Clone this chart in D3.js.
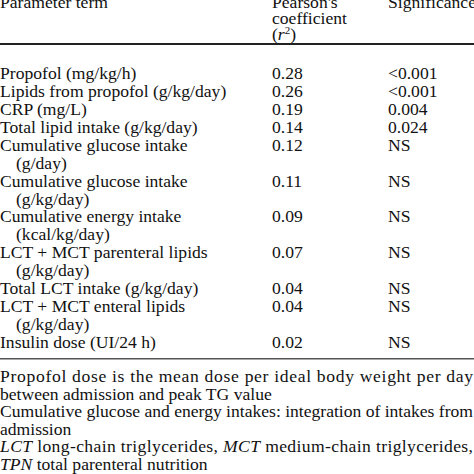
<!DOCTYPE html>
<html><head><meta charset="utf-8">
<script src="https://cdn.jsdelivr.net/npm/d3@7"></script>
<style>body{margin:0;background:#fff}text{font-family:"Liberation Serif","Times New Roman",serif;fill:#111}</style>
</head><body><svg id="c" width="474" height="474"></svg>
<script>
const headers = [["Parameter term"],["Pearson's","coefficient","(r²)"],["Significance"]];
const terms = [["Propofol (mg/kg/h)"],["Lipids from propofol (g/kg/day)"],["CRP (mg/L)"],["Total lipid intake (g/kg/day)"],["Cumulative glucose intake","(g/day)"],["Cumulative glucose intake","(g/kg/day)"],["Cumulative energy intake","(kcal/kg/day)"],["LCT + MCT parenteral lipids","(g/kg/day)"],["Total LCT intake (g/kg/day)"],["LCT + MCT enteral lipids","(g/kg/day)"],["Insulin dose (UI/24 h)"]];
const coefficients = ["0.28","0.26","0.19","0.14","0.12","0.11","0.09","0.07","0.04","0.04","0.02"];
const significance = ["<0.001","<0.001","0.004","0.024","NS","NS","NS","NS","NS","NS","NS"];
const footnotes = [["Propofol dose is the mean dose per ideal body weight per day",true],["between admission and peak TG value",false],["Cumulative glucose and energy intakes: integration of intakes from",true],["admission",false],["<i>LCT</i> long-chain triglycerides, <i>MCT</i> medium-chain triglycerides,",true],["<i>TPN</i> total parenteral nutrition",false]];

const svg = d3.select("#c");
const fs = 17.6, lh = 17.93;
const colX = [0, 272, 388];
const hdrY = d3.scaleLinear().domain([0,1]).range([8, 24]);
headers.forEach((h,ci)=>h.forEach((t,li)=>{
  const tx = svg.append("text").attr("x",colX[ci]).attr("y",hdrY(li)).attr("font-size",fs);
  if(t==="(r²)"){tx.text("(");tx.append("tspan").attr("font-style","italic").text("r");tx.append("tspan").attr("dy",-6).attr("font-size",11).text("2");tx.append("tspan").attr("dy",6).text(")");}
  else tx.text(t);
}));
svg.append("rect").attr("x",0).attr("y",43).attr("width",474).attr("height",2).attr("fill","#222");
const y = d3.scaleLinear().domain([0,1]).range([79, 79+lh]);
let line = 0;
terms.forEach((t,i)=>{
  t.forEach((s,k)=>svg.append("text").attr("x",k?16:0).attr("y",y(line+k)).attr("font-size",fs).text(s));
  svg.append("text").attr("x",colX[1]).attr("y",y(line)).attr("font-size",fs).text(coefficients[i]);
  svg.append("text").attr("x",colX[2]).attr("y",y(line)).attr("font-size",fs).text(significance[i]);
  line += t.length;
});
svg.append("rect").attr("x",0).attr("y",358).attr("width",474).attr("height",1.5).attr("fill","#555");
const fy = d3.scaleLinear().domain([0,1]).range([382, 399.5]);
footnotes.forEach(([s,j],i)=>{
  const tx = svg.append("text").attr("x",0).attr("y",fy(i)).attr("font-size",fs).html(s.replace(/<i>/g,'<tspan font-style="italic">').replace(/<\/i>/g,'</tspan>'));
  if(j) tx.attr("textLength",473).attr("lengthAdjust","spacing");
});
</script></body></html>
